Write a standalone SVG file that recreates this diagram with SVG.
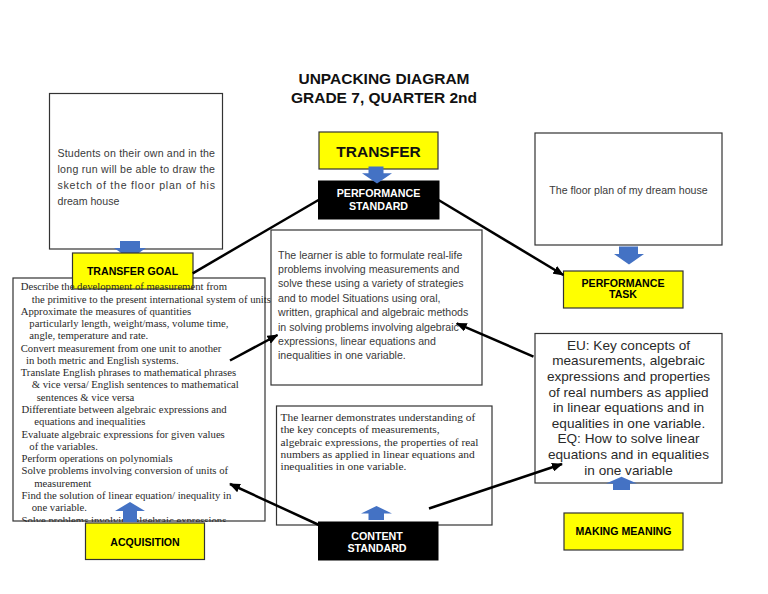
<svg xmlns="http://www.w3.org/2000/svg" width="768" height="594" viewBox="0 0 768 594">
<style>
.box{fill:#fff;stroke:#333;stroke-width:1.2}
.clear{fill:none;stroke:#333;stroke-width:1.2}
.yel{fill:#ffff00;stroke:#333;stroke-width:1.2}
.blk{fill:#000;stroke:#000}
.lbl{font-family:"Liberation Sans",Arial,sans-serif;font-weight:bold;font-size:10.6px;fill:#000;text-anchor:middle}
.wlbl{font-family:"Liberation Sans",Arial,sans-serif;font-weight:bold;font-size:10.7px;fill:#fff;text-anchor:middle}
.cal{font-family:"Liberation Sans",Arial,sans-serif;font-size:10.6px;fill:#3a3a3a}
.ser{font-family:"Liberation Serif","Times New Roman",serif;font-size:10.7px;fill:#2a2a2a}
.ser2{font-family:"Liberation Serif","Times New Roman",serif;font-size:11.4px;fill:#2a2a2a}
.eu{font-family:"Liberation Sans",Arial,sans-serif;font-size:13.6px;fill:#2a2a2a;text-anchor:middle}
.title{font-family:"Liberation Sans",Arial,sans-serif;font-weight:bold;font-size:15.5px;fill:#111;text-anchor:middle}
.blue{fill:#4472c4}
.conn{stroke:#000;stroke-width:2.5;fill:none}
</style>
<defs>
<marker id="ah" markerUnits="userSpaceOnUse" markerWidth="11" markerHeight="9" refX="10" refY="4.5" orient="auto">
<path d="M0,0 L11,4.5 L0,9 z" fill="#000"/>
</marker>
<clipPath id="listclip"><rect x="0" y="278" width="300" height="244"/></clipPath>
</defs>

<g id="title">
<text class="title" x="384" y="84">UNPACKING DIAGRAM</text>
<text class="title" x="384" y="102.5">GRADE 7, QUARTER 2nd</text>
</g>

<g id="acquisition-box-frame">
<rect class="clear" x="13" y="278" width="252" height="243"/>
</g>

<g id="transfer-goal-text">
<rect class="box" x="49.5" y="93.5" width="173" height="155.5"/>
<text class="cal" x="57.5" y="157" textLength="157.5" lengthAdjust="spacing">Students on their own and in the</text>
<text class="cal" x="57.5" y="173" textLength="157.5" lengthAdjust="spacing">long run will be able to draw the</text>
<text class="cal" x="57.5" y="189" textLength="157.5" lengthAdjust="spacing">sketch of the floor plan of his</text>
<text class="cal" x="57.5" y="205">dream house</text>
<path class="blue" d="M120,241 H140 V248 H146 L130,259 L114,248 H120 Z"/>
</g>

<g id="transfer-goal">
<rect class="yel" x="72.5" y="253" width="120.5" height="36"/>
<text class="lbl" x="132.5" y="275">TRANSFER GOAL</text>
</g>

<g id="acquisition-list">
<g clip-path="url(#listclip)">
<text class="ser" x="20.7" y="290.2">Describe the development of measurement from</text>
<text class="ser" x="31.7" y="302.5">the primitive to the present international system of units.</text>
<text class="ser" x="20.7" y="314.8">Approximate the measures of quantities</text>
<text class="ser" x="29.3" y="327">particularly length, weight/mass, volume time,</text>
<text class="ser" x="29.3" y="339.3">angle, temperature and rate.</text>
<text class="ser" x="20.7" y="351.6">Convert measurement from one unit to another</text>
<text class="ser" x="26" y="363.9">in both metric and English systems.</text>
<text class="ser" x="20.7" y="376.2">Translate English phrases to mathematical phrases</text>
<text class="ser" x="31.7" y="388.4">&amp; vice versa/ English sentences to mathematical</text>
<text class="ser" x="36.7" y="400.7">sentences &amp; vice versa</text>
<text class="ser" x="21.5" y="413">Differentiate between algebraic expressions and</text>
<text class="ser" x="34.3" y="425.3">equations and inequalities</text>
<text class="ser" x="21.5" y="437.6">Evaluate algebraic expressions for given values</text>
<text class="ser" x="29.3" y="449.9">of the variables.</text>
<text class="ser" x="21.5" y="462.1">Perform operations on polynomials</text>
<text class="ser" x="21.5" y="474.4">Solve problems involving conversion of units of</text>
<text class="ser" x="34.3" y="486.7">measurement</text>
<text class="ser" x="21.5" y="499">Find the solution of linear equation/ inequality in</text>
<text class="ser" x="31.7" y="511.3">one variable.</text>
<text class="ser" x="21.5" y="523.5">Solve problems involving algebraic expressions,</text>
</g>
<path class="blue" d="M123,522 V511 H115 L130,502 L145,511 H137 V522 Z"/>
</g>

<g id="acquisition">
<rect class="yel" x="85.5" y="523" width="119" height="36.5"/>
<text class="lbl" x="145" y="546">ACQUISITION</text>
</g>

<g id="transfer">
<rect class="yel" x="319" y="132" width="119" height="37"/>
<text class="title" x="378.5" y="157">TRANSFER</text>
</g>

<g id="performance-standard">
<rect class="blk" x="318.5" y="181" width="120.5" height="38"/>
<text class="wlbl" x="378.5" y="197.3">PERFORMANCE</text>
<text class="wlbl" x="378.5" y="210">STANDARD</text>
<path class="blue" d="M368.5,166.5 H383.5 V173.3 H392 L377,183.5 L362,173.3 H368.5 Z"/>
</g>

<g id="performance-standard-text">
<rect class="box" x="271" y="230" width="211" height="155"/>
<text class="cal" x="278" y="258.7">The learner is able to formulate real-life</text>
<text class="cal" x="278" y="273">problems involving measurements and</text>
<text class="cal" x="278" y="287.4">solve these using a variety of strategies</text>
<text class="cal" x="278" y="301.8">and to model Situations using oral,</text>
<text class="cal" x="278" y="316.2">written, graphical and algebraic methods</text>
<text class="cal" x="278" y="330.5">in solving problems involving algebraic</text>
<text class="cal" x="278" y="344.6">expressions, linear equations and</text>
<text class="cal" x="278" y="358.8">inequalities in one variable.</text>
</g>

<g id="performance-task-text">
<rect class="box" x="535" y="133" width="187" height="112"/>
<text class="cal" x="628.5" y="193.7" text-anchor="middle" font-size="10.7">The floor plan of my dream house</text>
<path class="blue" d="M619,246.5 H638 V254 H644 L629,264.5 L614,254 H619 Z"/>
</g>

<g id="performance-task">
<rect class="yel" x="563.5" y="271" width="119.5" height="37"/>
<text class="lbl" x="623" y="286.7">PERFORMANCE</text>
<text class="lbl" x="623" y="298.3">TASK</text>
</g>

<g id="content-standard-text">
<rect class="box" x="276.5" y="406" width="215.5" height="119"/>
<text class="ser2" x="280.5" y="420.5">The learner demonstrates understanding of</text>
<text class="ser2" x="280.5" y="433">the key concepts of measurements,</text>
<text class="ser2" x="280.5" y="445.5">algebraic expressions, the properties of real</text>
<text class="ser2" x="280.5" y="457.8">numbers as applied in linear equations and</text>
<text class="ser2" x="280.5" y="470.3">inequalities in one variable.</text>
<path class="blue" d="M368.5,520 V513.5 H361 L376.5,506 L392,513.5 H384 V520 Z"/>
</g>

<g id="content-standard">
<rect class="blk" x="318.5" y="522" width="119.5" height="38"/>
<text class="wlbl" x="377" y="540">CONTENT</text>
<text class="wlbl" x="377" y="551.7">STANDARD</text>
</g>

<g id="making-meaning-text">
<rect class="box" x="535" y="333.5" width="187" height="149.5"/>
<text class="eu" x="628.5" y="349.8">EU: Key concepts of</text>
<text class="eu" x="628.5" y="365.4">measurements, algebraic</text>
<text class="eu" x="628.5" y="381">expressions and properties</text>
<text class="eu" x="628.5" y="396.6">of real numbers as applied</text>
<text class="eu" x="628.5" y="412.2">in linear equations and in</text>
<text class="eu" x="628.5" y="427.8">equalities in one variable.</text>
<text class="eu" x="628.5" y="443.4">EQ: How to solve linear</text>
<text class="eu" x="628.5" y="459">equations and in equalities</text>
<text class="eu" x="628.5" y="474.6">in one variable</text>
<path class="blue" d="M613,490 V483.5 H606 L621.5,476.7 L637,483.5 H630 V490 Z"/>
</g>

<g id="making-meaning">
<rect class="yel" x="564" y="513" width="119" height="37"/>
<text class="lbl" x="623.5" y="535" font-size="10.3">MAKING MEANING</text>
</g>

<g id="connectors">
<line class="conn" x1="318.5" y1="200" x2="192.7" y2="273.3"/>
<line class="conn" x1="438.5" y1="200" x2="563.3" y2="275" marker-end="url(#ah)"/>
<line class="conn" x1="230" y1="360.5" x2="277.5" y2="335" marker-end="url(#ah)"/>
<line class="conn" x1="533.5" y1="356.7" x2="456.7" y2="323.3" marker-end="url(#ah)"/>
<line class="conn" x1="319" y1="525" x2="230" y2="484" marker-end="url(#ah)"/>
<line class="conn" x1="429" y1="508.5" x2="562" y2="464" marker-end="url(#ah)"/>
</g>
</svg>
